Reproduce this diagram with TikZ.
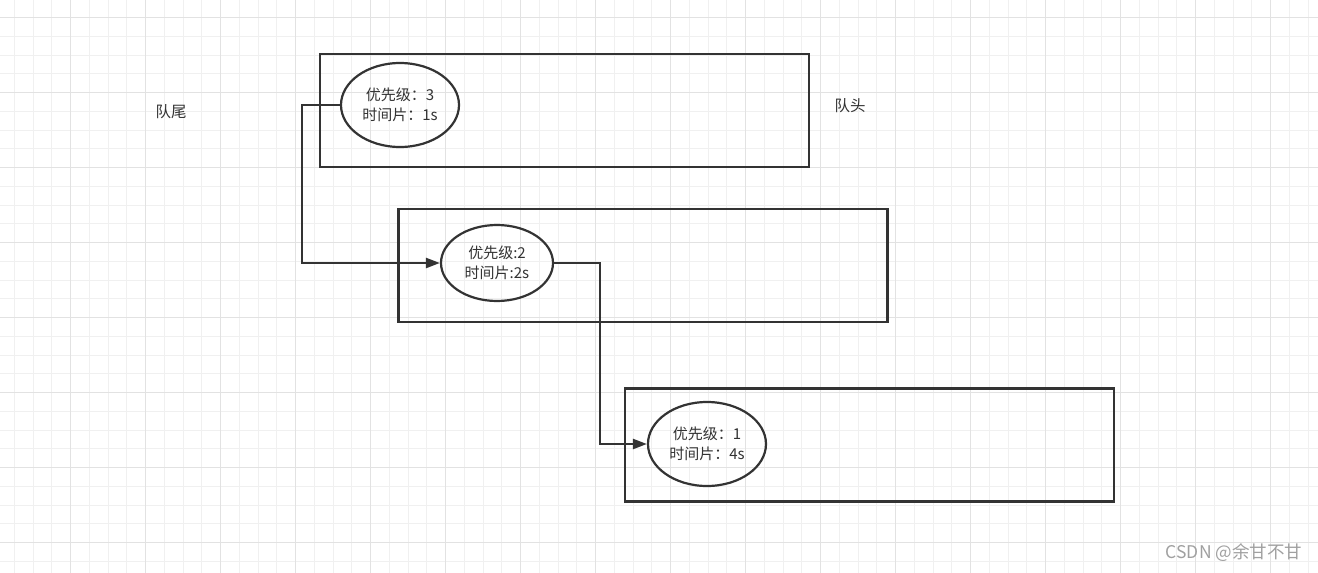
\documentclass[tikz,border=0pt]{standalone}
\usepackage{fontspec}
\setmainfont{Noto Sans CJK SC}
\usetikzlibrary{shapes.geometric,arrows.meta}
\definecolor{ink}{HTML}{333333}
\definecolor{gminor}{HTML}{F0F0F0}
\definecolor{gmajor}{HTML}{E2E2E2}
\definecolor{wm}{HTML}{A0A0A0}
\tikzset{
  queuebox/.style={draw=ink, line width=2.6pt, rectangle, minimum width=489pt, minimum height=113pt, inner sep=0pt},
  procnode/.style={draw=ink, line width=2.2pt, ellipse, inner sep=0pt, font=\fontsize{15}{19.5}\selectfont, text=ink, align=center},
  conn/.style={draw=ink, line width=2.4pt},
  arr/.style={conn, -{Triangle[length=14pt,width=10pt]}},
  lbl/.style={font=\fontsize{15.5}{18}\selectfont, text=ink}
}
\begin{document}
\begin{tikzpicture}[x=1pt,y=-1pt]
\useasboundingbox (0,0) rectangle (1318,573);
\fill[white] (0,0) rectangle (1318,573);
% minor grid
\foreach \i in {0,...,70} {
  \draw[gminor, line width=1pt] ({14.25+18.75*\i},0) -- ({14.25+18.75*\i},573);
}
\foreach \j in {0,...,30} {
  \draw[gminor, line width=1pt] (0,{17.5+18.75*\j}) -- (1318,{17.5+18.75*\j});
}
% major grid
\foreach \i in {0,...,17} {
  \draw[gmajor, line width=1pt] ({70.5+75*\i},0) -- ({70.5+75*\i},573);
}
\foreach \j in {0,...,7} {
  \draw[gmajor, line width=1pt] (0,{17.5+75*\j}) -- (1318,{17.5+75*\j});
}
% boxes
\node[queuebox] (b1) at (564.5,110.5) {};
\node[queuebox] (b2) at (643,265.5) {};
\node[queuebox] (b3) at (869.5,445) {};
% ellipses
\node[procnode, minimum width=118pt, minimum height=84pt] (e1) at (400,105) {优先级：3\\时间片：1s};
\node[procnode, minimum width=112pt, minimum height=76pt] (e2) at (497,263) {优先级:2\\时间片:2s};
\node[procnode, minimum width=118pt, minimum height=84pt] (e3) at (707,444) {优先级：1\\时间片：4s};
% labels
\node[lbl] (tail) at (171,112) {队尾};
\node[lbl] (head) at (850,106) {队头};
\node[font=\fontsize{17.5}{20}\selectfont, text=wm] (mark) at (1234,553) {CSDN @余甘不甘};
% connectors
\coordinate (k1) at (302,105);
\coordinate (k2) at (600,263);
\draw[arr] (e1.west) -- (k1) |- (e2.west);
\draw[arr] (e2.east) -- (k2) |- (e3.west);
\end{tikzpicture}
\end{document}
